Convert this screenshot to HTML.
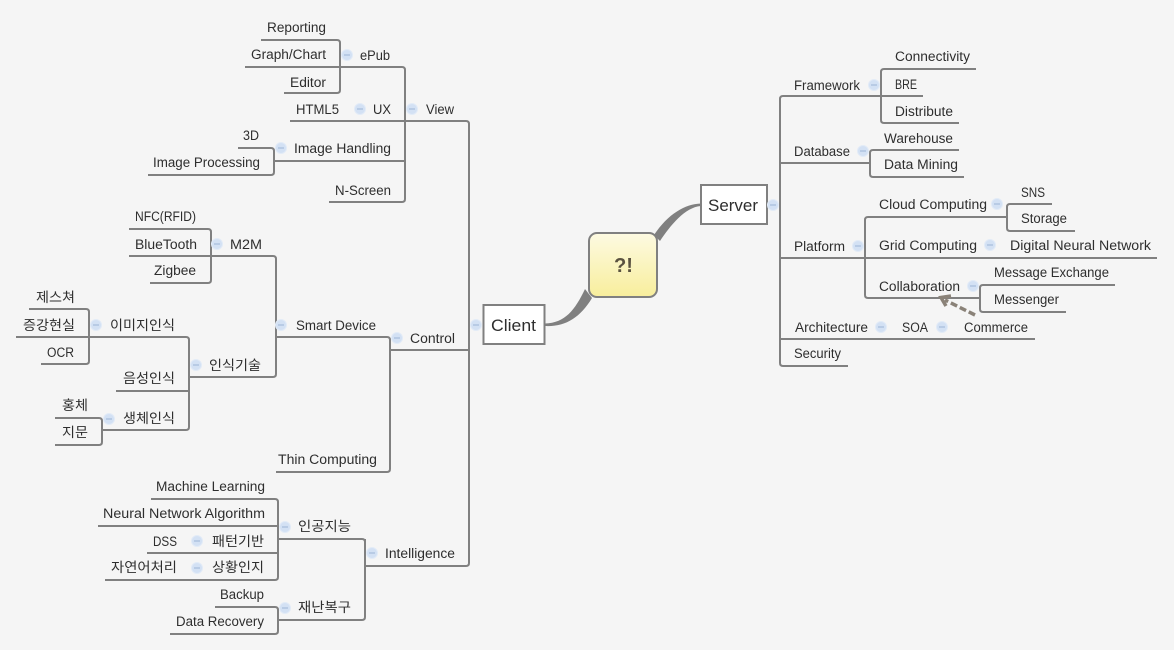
<!DOCTYPE html>
<html><head><meta charset="utf-8"><style>
html,body{margin:0;padding:0;background:#f5f5f5;width:1174px;height:650px;overflow:hidden}
svg{display:block}
text{font-family:"Liberation Sans","Noto Sans CJK KR",sans-serif;font-size:13.5px;fill:#2e2e2e}
.l{fill:none;stroke:#808080;stroke-width:2}
.m circle{fill:#d3e1f4;stroke:#e2ebf7;stroke-width:1}
.m path{stroke:#9db5d6;stroke-width:1;fill:none}
</style></head><body>
<svg width="1174" height="650" viewBox="0 0 1174 650" xmlns="http://www.w3.org/2000/svg">
<defs><linearGradient id="g" x1="0" y1="0" x2="0" y2="1"><stop offset="0" stop-color="#fdfae2"/><stop offset="1" stop-color="#f8ee9c"/></linearGradient></defs>
<rect width="1174" height="650" fill="#f5f5f5"/>
<g class="l">
<path d="M261 40H337Q340 40 340 43V90Q340 93 337 93H284"/>
<path d="M245 67H402Q405 67 405 70V199Q405 202 402 202H329"/>
<path d="M274 161H405"/>
<path d="M238 148H271Q274 148 274 151V172Q274 175 271 175H148"/>
<path d="M290 121H466Q469 121 469 124V563Q469 566 466 566H365"/>
<path d="M390 350H469"/>
<path d="M276 337H387Q390 337 390 340V469Q390 472 387 472H276"/>
<path d="M129 229H208Q211 229 211 232V280Q211 283 208 283H150"/>
<path d="M129 256H273Q276 256 276 259V374Q276 377 273 377H189"/>
<path d="M16 337H186Q189 337 189 340V427Q189 430 186 430H102"/>
<path d="M29 309H86Q89 309 89 312V361Q89 364 86 364H41"/>
<path d="M116 391H189"/>
<path d="M55 418H99Q102 418 102 421V442Q102 445 99 445H55"/>
<path d="M365 539V617Q365 620 362 620H278"/>
<path d="M278 539H362Q365 539 365 542"/>
<path d="M151 499H275Q278 499 278 502V577Q278 580 275 580H105"/>
<path d="M98 526H278"/>
<path d="M147 553H278"/>
<path d="M215 607H275Q278 607 278 610V631Q278 634 275 634H170"/>
<path d="M923 96H783Q780 96 780 99V363Q780 366 783 366H848"/>
<path d="M976 69H884Q881 69 881 72V120Q881 123 884 123H959"/>
<path d="M780 163H870"/>
<path d="M959 150H873Q870 150 870 153V174Q870 177 873 177H964"/>
<path d="M780 258H1157"/>
<path d="M1007 217H868Q865 217 865 220V295Q865 298 868 298H980"/>
<path d="M1052 204H1010Q1007 204 1007 207V228Q1007 231 1010 231H1075"/>
<path d="M1115 285H983Q980 285 980 288V309Q980 312 983 312H1066"/>
<path d="M780 339H1035"/>
</g>
<path d="M545 323.500C565 323 575 310 585 289L592 298C580 318 565 327 545 326Z" fill="#808080"/>
<path d="M701 203.500C685 204 668 214 654 235L660 241C670 226 685 207 701 206Z" fill="#808080"/>
<rect x="483.500" y="305" width="61" height="39" fill="#fff" stroke="#808080" stroke-width="2"/>
<rect x="701" y="185" width="66" height="39" fill="#fff" stroke="#808080" stroke-width="2"/>
<rect x="589" y="233" width="68" height="64" rx="8" fill="url(#g)" stroke="#808080" stroke-width="2"/>
<path d="M975 315L945 300" stroke="#8a8278" stroke-width="3.500" stroke-dasharray="7 3" fill="none"/>
<path d="M951 296L941 297.500L946 306" stroke="#8a8278" stroke-width="3.500" fill="none"/>
<g class="m">
<g><circle cx="347" cy="55" r="5.500"/><path d="M344 55h6"/></g>
<g><circle cx="360" cy="109" r="5.500"/><path d="M357 109h6"/></g>
<g><circle cx="412" cy="109" r="5.500"/><path d="M409 109h6"/></g>
<g><circle cx="281" cy="148" r="5.500"/><path d="M278 148h6"/></g>
<g><circle cx="217" cy="244" r="5.500"/><path d="M214 244h6"/></g>
<g><circle cx="281" cy="325" r="5.500"/><path d="M278 325h6"/></g>
<g><circle cx="397" cy="338" r="5.500"/><path d="M394 338h6"/></g>
<g><circle cx="476" cy="325" r="5.500"/><path d="M473 325h6"/></g>
<g><circle cx="96" cy="325" r="5.500"/><path d="M93 325h6"/></g>
<g><circle cx="196" cy="365" r="5.500"/><path d="M193 365h6"/></g>
<g><circle cx="109" cy="419" r="5.500"/><path d="M106 419h6"/></g>
<g><circle cx="285" cy="527" r="5.500"/><path d="M282 527h6"/></g>
<g><circle cx="197" cy="541" r="5.500"/><path d="M194 541h6"/></g>
<g><circle cx="197" cy="568" r="5.500"/><path d="M194 568h6"/></g>
<g><circle cx="285" cy="608" r="5.500"/><path d="M282 608h6"/></g>
<g><circle cx="372" cy="553" r="5.500"/><path d="M369 553h6"/></g>
<g><circle cx="773" cy="205" r="5.500"/><path d="M770 205h6"/></g>
<g><circle cx="874" cy="85" r="5.500"/><path d="M871 85h6"/></g>
<g><circle cx="863" cy="151" r="5.500"/><path d="M860 151h6"/></g>
<g><circle cx="858" cy="246" r="5.500"/><path d="M855 246h6"/></g>
<g><circle cx="997" cy="204" r="5.500"/><path d="M994 204h6"/></g>
<g><circle cx="990" cy="245" r="5.500"/><path d="M987 245h6"/></g>
<g><circle cx="973" cy="286" r="5.500"/><path d="M970 286h6"/></g>
<g><circle cx="881" cy="327" r="5.500"/><path d="M878 327h6"/></g>
<g><circle cx="942" cy="327" r="5.500"/><path d="M939 327h6"/></g>
</g>
<text x="267" y="32" textLength="59" lengthAdjust="spacingAndGlyphs">Reporting</text>
<text x="251" y="59" textLength="75" lengthAdjust="spacingAndGlyphs">Graph/Chart</text>
<text x="290" y="87" textLength="36" lengthAdjust="spacingAndGlyphs">Editor</text>
<text x="360" y="60" textLength="30" lengthAdjust="spacingAndGlyphs">ePub</text>
<text x="296" y="114" textLength="43" lengthAdjust="spacingAndGlyphs">HTML5</text>
<text x="373" y="114" textLength="18" lengthAdjust="spacingAndGlyphs">UX</text>
<text x="426" y="114" textLength="28" lengthAdjust="spacingAndGlyphs">View</text>
<text x="243" y="140" textLength="16" lengthAdjust="spacingAndGlyphs">3D</text>
<text x="153" y="167" textLength="107" lengthAdjust="spacingAndGlyphs">Image Processing</text>
<text x="294" y="153" textLength="97" lengthAdjust="spacingAndGlyphs">Image Handling</text>
<text x="335" y="195" textLength="56" lengthAdjust="spacingAndGlyphs">N-Screen</text>
<text x="135" y="221" textLength="61" lengthAdjust="spacingAndGlyphs">NFC(RFID)</text>
<text x="135" y="249" textLength="62" lengthAdjust="spacingAndGlyphs">BlueTooth</text>
<text x="154" y="275" textLength="42" lengthAdjust="spacingAndGlyphs">Zigbee</text>
<text x="230" y="249" textLength="32" lengthAdjust="spacingAndGlyphs">M2M</text>
<text x="296" y="330" textLength="80" lengthAdjust="spacingAndGlyphs">Smart Device</text>
<text x="410" y="343" textLength="45" lengthAdjust="spacingAndGlyphs">Control</text>
<text x="278" y="464" textLength="99" lengthAdjust="spacingAndGlyphs">Thin Computing</text>
<text x="36" y="302" textLength="39" lengthAdjust="spacingAndGlyphs">제스쳐</text>
<text x="23" y="330" textLength="52" lengthAdjust="spacingAndGlyphs">증강현실</text>
<text x="47" y="357" textLength="27" lengthAdjust="spacingAndGlyphs">OCR</text>
<text x="110" y="330" textLength="65" lengthAdjust="spacingAndGlyphs">이미지인식</text>
<text x="209" y="370" textLength="52" lengthAdjust="spacingAndGlyphs">인식기술</text>
<text x="123" y="383" textLength="52" lengthAdjust="spacingAndGlyphs">음성인식</text>
<text x="62" y="410" textLength="26" lengthAdjust="spacingAndGlyphs">홍체</text>
<text x="62" y="437" textLength="26" lengthAdjust="spacingAndGlyphs">지문</text>
<text x="123" y="423" textLength="52" lengthAdjust="spacingAndGlyphs">생체인식</text>
<text x="156" y="491" textLength="109" lengthAdjust="spacingAndGlyphs">Machine Learning</text>
<text x="103" y="518" textLength="162" lengthAdjust="spacingAndGlyphs">Neural Network Algorithm</text>
<text x="153" y="546" textLength="24" lengthAdjust="spacingAndGlyphs">DSS</text>
<text x="212" y="546" textLength="52" lengthAdjust="spacingAndGlyphs">패턴기반</text>
<text x="111" y="572" textLength="66" lengthAdjust="spacingAndGlyphs">자연어처리</text>
<text x="212" y="572" textLength="52" lengthAdjust="spacingAndGlyphs">상황인지</text>
<text x="298" y="531" textLength="53" lengthAdjust="spacingAndGlyphs">인공지능</text>
<text x="220" y="599" textLength="44" lengthAdjust="spacingAndGlyphs">Backup</text>
<text x="176" y="626" textLength="88" lengthAdjust="spacingAndGlyphs">Data Recovery</text>
<text x="298" y="612" textLength="53" lengthAdjust="spacingAndGlyphs">재난복구</text>
<text x="385" y="558" textLength="70" lengthAdjust="spacingAndGlyphs">Intelligence</text>
<text x="491" y="331" textLength="45" lengthAdjust="spacingAndGlyphs" style="font-size:17px">Client</text>
<text x="708" y="211" textLength="50" lengthAdjust="spacingAndGlyphs" style="font-size:17px">Server</text>
<text x="614" y="272" textLength="19" lengthAdjust="spacingAndGlyphs" style="font-size:20px;font-weight:bold;fill:#5a5240">?!</text>
<text x="794" y="90" textLength="66" lengthAdjust="spacingAndGlyphs">Framework</text>
<text x="895" y="61" textLength="75" lengthAdjust="spacingAndGlyphs">Connectivity</text>
<text x="895" y="89" textLength="22" lengthAdjust="spacingAndGlyphs">BRE</text>
<text x="895" y="116" textLength="58" lengthAdjust="spacingAndGlyphs">Distribute</text>
<text x="794" y="156" textLength="56" lengthAdjust="spacingAndGlyphs">Database</text>
<text x="884" y="143" textLength="69" lengthAdjust="spacingAndGlyphs">Warehouse</text>
<text x="884" y="169" textLength="74" lengthAdjust="spacingAndGlyphs">Data Mining</text>
<text x="879" y="209" textLength="108" lengthAdjust="spacingAndGlyphs">Cloud Computing</text>
<text x="1021" y="197" textLength="24" lengthAdjust="spacingAndGlyphs">SNS</text>
<text x="1021" y="223" textLength="46" lengthAdjust="spacingAndGlyphs">Storage</text>
<text x="794" y="251" textLength="51" lengthAdjust="spacingAndGlyphs">Platform</text>
<text x="879" y="250" textLength="98" lengthAdjust="spacingAndGlyphs">Grid Computing</text>
<text x="1010" y="250" textLength="141" lengthAdjust="spacingAndGlyphs">Digital Neural Network</text>
<text x="879" y="291" textLength="81" lengthAdjust="spacingAndGlyphs">Collaboration</text>
<text x="994" y="277" textLength="115" lengthAdjust="spacingAndGlyphs">Message Exchange</text>
<text x="994" y="304" textLength="65" lengthAdjust="spacingAndGlyphs">Messenger</text>
<text x="795" y="332" textLength="73" lengthAdjust="spacingAndGlyphs">Architecture</text>
<text x="902" y="332" textLength="26" lengthAdjust="spacingAndGlyphs">SOA</text>
<text x="964" y="332" textLength="64" lengthAdjust="spacingAndGlyphs">Commerce</text>
<text x="794" y="358" textLength="47" lengthAdjust="spacingAndGlyphs">Security</text>
</svg>
</body></html>
